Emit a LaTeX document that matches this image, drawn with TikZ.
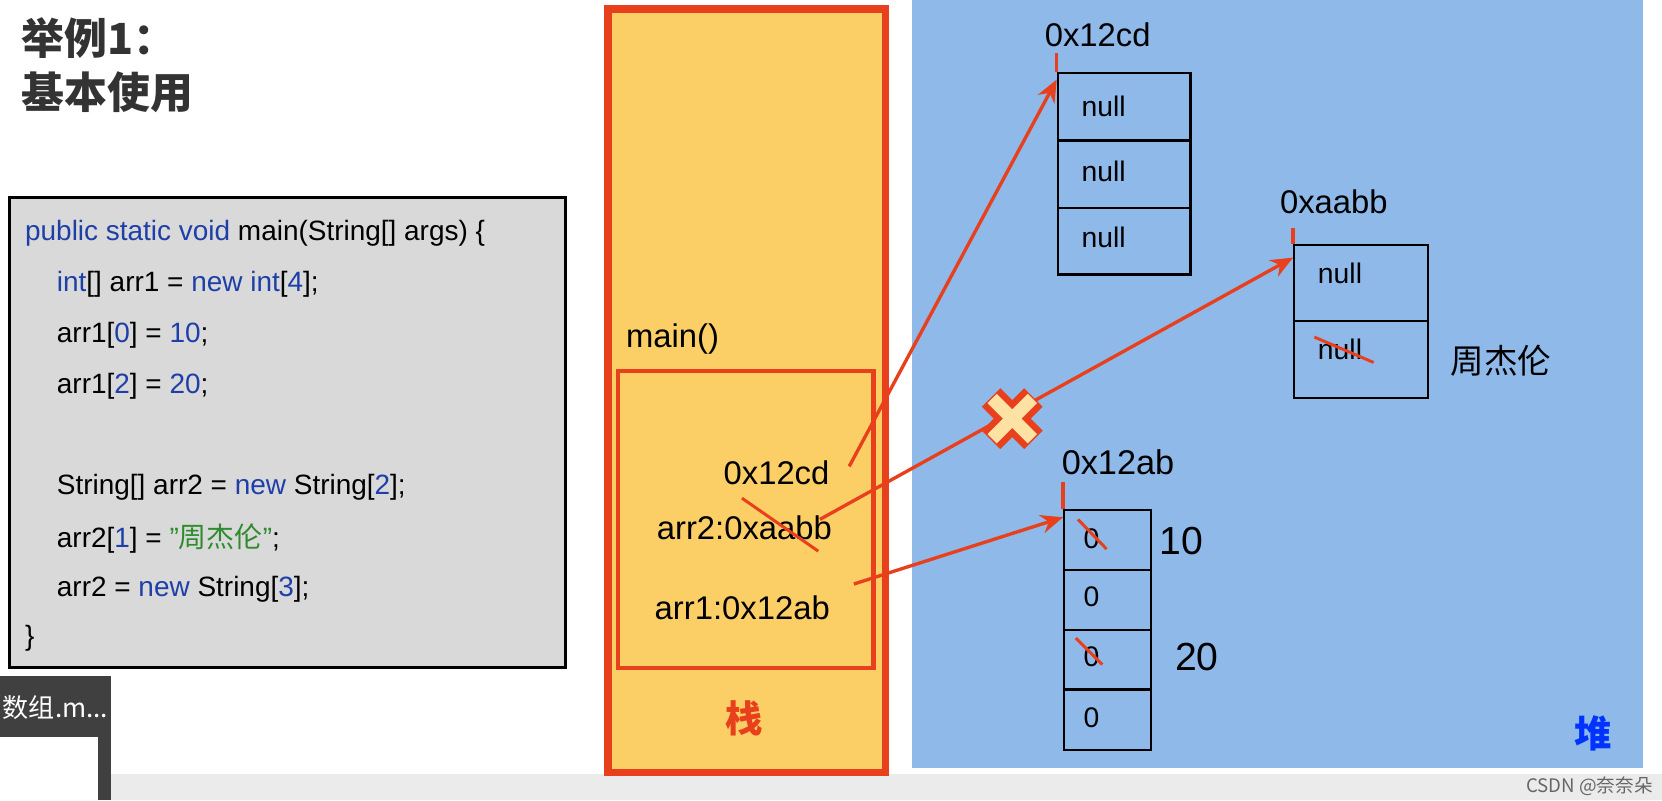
\documentclass[tikz,border=0pt]{standalone}
\usepackage{fontspec}
\setmainfont{Liberation Sans}
\newfontfamily\cjk{Noto Sans CJK SC}
\usetikzlibrary{arrows.meta}
\definecolor{stackfill}{HTML}{FCCF66}
\definecolor{redl}{HTML}{E8401C}
\definecolor{heap}{HTML}{8EB9E9}
\definecolor{codebg}{HTML}{D9D9D9}
\definecolor{kw}{HTML}{1F3FA8}
\definecolor{strg}{HTML}{2E8B2E}
\begin{document}
\begin{tikzpicture}[x=0.01cm,y=-0.01cm,
  cell/.style={draw=black,line width=0.6pt,fill=heap,minimum width=1.25cm,minimum height=0.63cm,inner sep=0,anchor=north west},
  ncell/.style={draw=black,line width=0.6pt,fill=heap,minimum width=0.82cm,minimum height=0.565cm,inner sep=0,anchor=north west},
  ctext/.style={font=\fontsize{7.6}{9}\selectfont,anchor=west},
  code/.style={font=\fontsize{7.5}{9}\selectfont,anchor=west,inner sep=0},
  big/.style={font=\fontsize{8.8}{11}\selectfont,anchor=west,inner sep=0},
  ref/.style={redl,line width=0.9pt,-{Stealth[length=6pt,width=5pt]}},
  strike/.style={redl,line width=0.8pt}]
\useasboundingbox (0,0) rectangle (1568,755);
\fill[white] (0,0) rectangle (1568,755);
\fill[black!8] (0,730) rectangle (1568,755);
% title
\node[anchor=north west,align=left,font=\cjk\bfseries\fontsize{11.5}{14.5}\selectfont,text=black!80,inner sep=0] (title) at (20,16) {举例1：\\基本使用};
% code
\node[draw=black,fill=codebg,line width=0.7pt,minimum width=5.24cm,minimum height=4.43cm,anchor=north west,inner sep=0] (codebox) at (8,185) {};
\node[code] (c1) at (23,220) {\textcolor{kw}{public static void} main(String[] args) \{};
\node[code] (c2) at (53,268) {\textcolor{kw}{int}[] arr1 = \textcolor{kw}{new int}[\textcolor{kw}{4}];};
\node[code] (c3) at (53,316) {arr1[\textcolor{kw}{0}] = \textcolor{kw}{10};};
\node[code] (c4) at (53,364) {arr1[\textcolor{kw}{2}] = \textcolor{kw}{20};};
\node[code] (c5) at (53,460) {String[] arr2 = \textcolor{kw}{new} String[\textcolor{kw}{2}];};
\node[code] (c6) at (53,508) {arr2[\textcolor{kw}{1}] = \textcolor{strg}{"{\cjk 周杰伦}"};};
\node[code] (c7) at (53,556) {arr2 = \textcolor{kw}{new} String[\textcolor{kw}{3}];};
\node[code] (c8) at (23,602) {\}};
% thumbnail
\fill[black!75] (0,638) rectangle (105,755);
\fill[white] (0,695) rectangle (92,755);
\node[anchor=west,text=white,font=\cjk\fontsize{7}{8}\selectfont,inner sep=0] (thumb) at (2,668) {数组.m...};
% stack
\node[draw=redl,fill=stackfill,line width=2pt,minimum width=2.62cm,minimum height=7.2cm,anchor=north west,inner sep=0] (stack) at (570,5) {};
\node[draw=redl,line width=1.2pt,minimum width=2.41cm,minimum height=2.8cm,anchor=north west,inner sep=0] (frame) at (581,348) {};
\node[big] (mainl) at (590,320) {main()};
\node[big] (v1) at (682,446) {0x12cd};
\node[big] (v2) at (619,498) {arr2:0xaabb};
\node[big] (v3) at (617,573) {arr1:0x12ab};
\node[font=\cjk\bfseries\fontsize{10}{12}\selectfont,text=redl] (zhan) at (702,678) {栈};
\draw[strike] (700,470) -- (772,520);
% heap
\fill[heap] (860,0) rectangle (1550,725);
\node[font=\cjk\bfseries\fontsize{10}{12}\selectfont,text=blue!80!cyan] (dui) at (1503,692) {堆};
% array 0x12cd
\node[cell] (a1) at (997,68) {}; \node[cell] (a2) at (997,132) {}; \node[cell] (a3) at (997,195) {};
\foreach \n/\y in {a1/100,a2/162,a3/224} \node[ctext] at (1008,\y) {null};
\node[big] (la) at (985,33) {0x12cd};
\coordinate (ta) at (997,50); \draw[redl,line width=0.9pt] (ta) -- (997,68);
% array 0xaabb
\node[cell,minimum width=1.26cm,minimum height=0.725cm] (b1) at (1220,230) {};
\node[cell,minimum width=1.26cm,minimum height=0.725cm] (b2) at (1220,302) {};
\node[ctext] at (1231,258) {null}; \node[ctext] (bn) at (1231,330) {null};
\draw[strike] (1240,318) -- (1296,342);
\node[big] (lb) at (1207,190) {0xaabb};
\draw[redl,line width=0.9pt] (1220,215) -- (1220,230);
\node[font=\cjk\fontsize{9}{11}\selectfont,anchor=west,inner sep=0] (zjl) at (1368,340) {周杰伦};
% array 0x12ab
\node[ncell] (d1) at (1003,480) {}; \node[ncell] (d2) at (1003,537) {};
\node[ncell] (d3) at (1003,593) {}; \node[ncell] (d4) at (1003,650) {};
\foreach \y in {508,563,620,677} \node[ctext] at (1010,\y) {0};
\draw[strike] (1017,490) -- (1044,518);
\draw[strike] (1015,602) -- (1040,627);
\node[font=\fontsize{9.2}{11}\selectfont,anchor=west,inner sep=0] (lc) at (1001,436) {0x12ab};
\draw[redl,line width=0.9pt] (1003,455) -- (1003,480);
\node[font=\fontsize{10.5}{12}\selectfont,anchor=west,inner sep=0] (ten) at (1093,510) {10};
\node[font=\fontsize{10.5}{12}\selectfont,anchor=west,inner sep=0] (twenty) at (1108,620) {20};
% arrows
\draw[ref] (v1.east) ++(18,-6) -- (997,75);
\draw[ref] (v2.east) ++(-12,-8) -- (1220,243);
\draw[ref] (v3.east) ++(22,-22) -- (1003,488);
% cross
\begin{scope}[shift={(955,395)}]
\draw[redl,line width=7pt] (-20,-20) -- (20,20) (-20,20) -- (20,-20);
\draw[stackfill!60!white,line width=3.5pt] (-19,-19) -- (19,19) (-19,19) -- (19,-19);
\end{scope}
\node[font=\cjk\fontsize{5}{6}\selectfont,text=black!60,anchor=east,inner sep=0] (csdn) at (1560,742) {CSDN @奈奈朵};
\end{tikzpicture}
\end{document}
